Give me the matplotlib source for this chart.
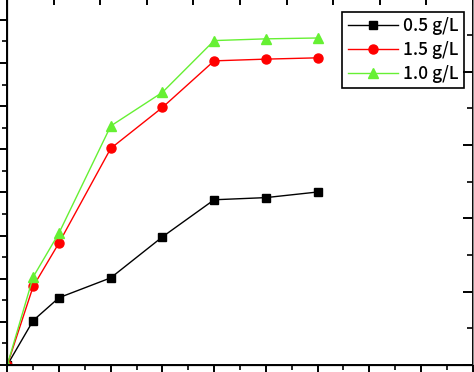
import numpy as np
import matplotlib.pyplot as plt
from matplotlib.ticker import MultipleLocator

# time points and concentration curves
time_min = [0, 5, 10, 20, 30, 40, 50, 60]
y_05 = [0, 10.3, 15.6, 20.2, 29.7, 38.3, 38.8, 40.1]
y_15 = [0, 18.2, 28.3, 50.2, 59.7, 70.5, 70.9, 71.2]
y_10 = [0, 20.4, 30.6, 55.4, 63.2, 75.2, 75.6, 75.8]
labels = ["0.5 g/L", "1.5 g/L", "1.0 g/L"]

plt.rcParams['font.family'] = ['Noto Sans CJK JP', 'DejaVu Sans']

fig = plt.figure(figsize=(4.74, 3.72), dpi=100)
ax = fig.add_axes([7.3 / 474, 7 / 372, 465.4 / 474, 366.7 / 372])

green = '#66f033'
ax.plot(time_min, y_05, color='black', lw=1.0, marker='s', ms=6, label=labels[0])
ax.plot(time_min, y_15, color='red', lw=1.0, marker='o', ms=6.5, label=labels[1])
ax.plot(time_min, y_10, color=green, lw=1.0, marker='^', ms=7.5, label=labels[2])

ax.set_xlim(0, 90)
ax.set_ylim(0, 85)
ax.xaxis.set_major_locator(MultipleLocator(10))
ax.xaxis.set_minor_locator(MultipleLocator(5))
ax.yaxis.set_major_locator(MultipleLocator(10))
ax.yaxis.set_minor_locator(MultipleLocator(5))
ax.tick_params(which='major', direction='out', length=6, width=1.4, labelbottom=False, labelleft=False)
ax.tick_params(which='minor', direction='out', length=3.5, width=1.2)
for s in ax.spines.values():
    s.set_linewidth(1.4)

# right and top axes carry their own tick spacing
axr = ax.twinx()
axr.set_ylim(0, 5)
axr.yaxis.set_major_locator(MultipleLocator(1))
axr.yaxis.set_minor_locator(MultipleLocator(0.5))
axr.tick_params(which='major', direction='in', length=7, width=1.4, labelright=False)
axr.tick_params(which='minor', direction='in', length=4, width=1.2)

axt = ax.twiny()
axt.set_xlim(0, 10)
axt.xaxis.set_major_locator(MultipleLocator(1))
axt.tick_params(which='major', direction='in', length=5, width=1.4, labeltop=False)
axt.spines['right'].set_color('#888888')

leg = ax.legend(loc='upper right', bbox_to_anchor=(0.981, 0.962), borderaxespad=0,
                fancybox=False, edgecolor='black', framealpha=1,
                prop={'size': 12.5, 'weight': 'medium'},
                handlelength=2.9, handletextpad=0.3, labelspacing=0.34,
                borderpad=0.3)
leg.get_frame().set_linewidth(1.2)

fig.savefig('out.png', dpi=100)
